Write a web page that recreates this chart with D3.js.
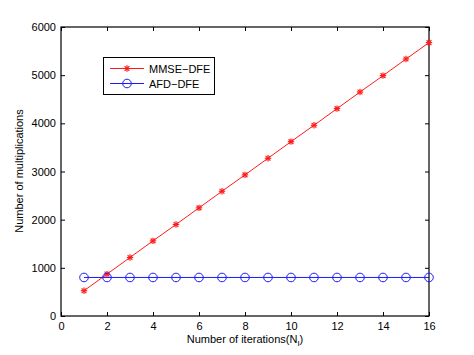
<!DOCTYPE html>
<html><head><meta charset="utf-8">
<script src="https://d3js.org/d3.v7.min.js"></script>
<style>body{margin:0;background:#fff}svg{display:block}text{font-family:"Liberation Sans",Arial,sans-serif}</style>
</head><body><svg id="c" width="474" height="355"></svg>
<script>
const iterations = [1,2,3,4,5,6,7,8,9,10,11,12,13,14,15,16];
const mmse = [525,870,1215,1560,1900,2245,2590,2930,3275,3620,3960,4305,4650,4990,5335,5675];
const afd = [800,800,800,800,800,800,800,800,800,800,800,800,800,800,800,800];
const xTicks = [0,2,4,6,8,10,12,14,16];
const yTicks = [0,1000,2000,3000,4000,5000,6000];
const seriesNames = ["MMSE\u2212DFE","AFD\u2212DFE"];

const svg = d3.select("#c");
const L=61, R=429, T=27, B=316;
const x = d3.scaleLinear().domain([0,16]).range([L,R]);
const y = d3.scaleLinear().domain([0,6000]).range([B,T]);
const fs = 11;

function ax(g, axis){ g.call(axis); g.select(".domain").remove(); g.selectAll("line").attr("stroke","#000"); }
const gx = svg.append("g").attr("transform",`translate(0,${B})`);
ax(gx, d3.axisBottom(x).tickValues(xTicks).tickSize(-4).tickPadding(6).tickFormat(d3.format("d")));
gx.selectAll("text").attr("font-size",fs).attr("fill","#000");
const gxt = svg.append("g").attr("transform",`translate(0,${T})`);
ax(gxt, d3.axisTop(x).tickValues(xTicks).tickSize(-4).tickFormat(""));
const gy = svg.append("g").attr("transform",`translate(${L},0)`);
ax(gy, d3.axisLeft(y).tickValues(yTicks).tickSize(-4).tickPadding(5).tickFormat(d3.format("d")));
gy.selectAll("text").attr("font-size",fs).attr("fill","#000");
const gyr = svg.append("g").attr("transform",`translate(${R},0)`);
ax(gyr, d3.axisRight(y).tickValues(yTicks).tickSize(-4).tickFormat(""));

svg.append("rect").attr("x",L).attr("y",T).attr("width",R-L).attr("height",B-T)
  .attr("fill","none").attr("stroke","#000").attr("stroke-width",1.2);

const line = d3.line().x((d,i)=>x(iterations[i])).y(d=>y(d));
const red="#ff1a1a", blue="#1a1aff";
svg.append("path").datum(mmse).attr("d",line).attr("fill","none").attr("stroke",red).attr("stroke-width",1);
svg.append("path").datum(afd).attr("d",line).attr("fill","none").attr("stroke",blue).attr("stroke-width",1);

function star(g,cx,cy,c){
  const s=3.2;
  const p = g.append("g").attr("stroke",c).attr("stroke-width",1.2);
  p.append("line").attr("x1",cx-s).attr("x2",cx+s).attr("y1",cy).attr("y2",cy);
  p.append("line").attr("x1",cx).attr("x2",cx).attr("y1",cy-s).attr("y2",cy+s);
  p.append("line").attr("x1",cx-s*0.75).attr("x2",cx+s*0.75).attr("y1",cy-s*0.75).attr("y2",cy+s*0.75);
  p.append("line").attr("x1",cx-s*0.75).attr("x2",cx+s*0.75).attr("y1",cy+s*0.75).attr("y2",cy-s*0.75);
}
mmse.forEach((v,i)=>star(svg,x(iterations[i]),y(v),red));
svg.selectAll("circle.afd").data(afd).enter().append("circle")
  .attr("cx",(d,i)=>x(iterations[i])).attr("cy",d=>y(d)).attr("r",4.3)
  .attr("fill","none").attr("stroke",blue).attr("stroke-width",1);

// legend
const lg = svg.append("g");
lg.append("rect").attr("x",103.5).attr("y",57.5).attr("width",111).attr("height",37)
  .attr("fill","#fff").attr("stroke","#000").attr("stroke-width",1);
const rows=[68.5,83.5];
lg.append("line").attr("x1",110).attr("x2",144).attr("y1",rows[0]).attr("y2",rows[0]).attr("stroke",red);
star(lg,127,rows[0],red);
lg.append("line").attr("x1",110).attr("x2",144).attr("y1",rows[1]).attr("y2",rows[1]).attr("stroke",blue);
lg.append("circle").attr("cx",127).attr("cy",rows[1]).attr("r",4.3).attr("fill","none").attr("stroke",blue);
seriesNames.forEach((n,i)=>lg.append("text").attr("x",149).attr("y",rows[i]+4).attr("font-size",fs).text(n));

// axis labels
const xl = svg.append("text").attr("x",245).attr("y",343).attr("text-anchor","middle").attr("font-size",fs);
xl.append("tspan").text("Number of iterations(N");
xl.append("tspan").attr("font-size",8).attr("dy",3).text("I");
xl.append("tspan").attr("dy",-3).text(")");
svg.append("text").attr("transform","translate(23,171) rotate(-90)").attr("text-anchor","middle")
  .attr("font-size",fs).text("Number of multiplications");
</script></body></html>
